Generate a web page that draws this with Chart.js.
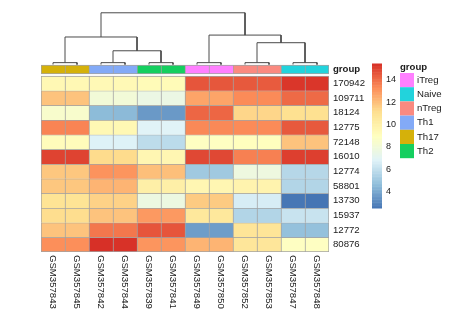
<!DOCTYPE html>
<html>
<head>
<meta charset="utf-8">
<script src="https://cdn.jsdelivr.net/npm/chart.js@4.4.1/dist/chart.umd.min.js"></script>
<style>
  body { margin: 0; background: #fff; }
  #wrap { width: 474px; height: 325px; }
</style>
</head>
<body>
<div id="wrap"><canvas id="heatmap" width="474" height="325"></canvas></div>
<script>
// columns, in dendrogram order
const samples = ['GSM357843', 'GSM357845', 'GSM357842', 'GSM357844', 'GSM357839', 'GSM357841',
                 'GSM357849', 'GSM357850', 'GSM357852', 'GSM357853', 'GSM357847', 'GSM357848'];
const sampleGroup = ['Th17', 'Th17', 'Th1', 'Th1', 'Th2', 'Th2',
                     'iTreg', 'iTreg', 'nTreg', 'nTreg', 'Naive', 'Naive'];
const genes = ['170942', '109711', '18124', '12775', '72148', '16010',
               '12774', '58801', '13730', '15937', '12772', '80876'];

// log expression, one row per gene
const expr = [
  [9.5, 9.5, 9.4, 9.4, 9.3, 9.3, 14.6, 14.55, 14.5, 14.45, 15.3, 15.3],
  [11.9, 11.9, 8.1, 8.1, 7.6, 7.6, 12.7, 12.7, 13.35, 13.35, 14.1, 14.1],
  [8.5, 8.5, 4.6, 4.55, 3.6, 3.6, 14.2, 14.2, 11.4, 11.4, 11.1, 11.1],
  [13.5, 13.5, 9.5, 9.5, 6.9, 6.9, 13.4, 13.4, 13.35, 13.35, 14.5, 14.5],
  [9.2, 9.2, 6.8, 6.8, 5.9, 5.85, 8.9, 8.9, 9.05, 9.05, 11.9, 11.9],
  [15.0, 15.0, 11.25, 11.25, 9.6, 9.6, 14.9, 14.9, 13.6, 13.6, 15.1, 15.1],
  [11.8, 11.8, 13.15, 13.1, 12.0, 12.0, 5.1, 5.1, 7.8, 7.8, 5.7, 5.7],
  [11.8, 11.8, 12.3, 12.3, 10.1, 10.1, 9.6, 9.6, 9.8, 9.8, 5.6, 5.6],
  [10.9, 10.9, 11.5, 11.5, 7.7, 7.7, 11.7, 11.7, 6.6, 6.6, 2.6, 2.55],
  [11.2, 11.2, 11.9, 11.9, 13.0, 13.0, 10.6, 10.6, 5.6, 5.6, 6.2, 6.2],
  [11.9, 11.9, 13.8, 13.8, 14.6, 14.6, 3.7, 3.7, 10.8, 10.8, 4.8, 4.8],
  [13.25, 13.25, 15.45, 15.4, 13.1, 13.1, 12.3, 12.3, 10.7, 10.7, 8.9, 8.9]
];

const groupNames = ['iTreg', 'Naive', 'nTreg', 'Th1', 'Th17', 'Th2'];
const groupColors = ['#FF80FF', '#22D3DC', '#FA8A80', '#83AAF7', '#D5B10A', '#15CF5F'];
const legendTicks = [4, 6, 8, 10, 12, 14];

// hclust style merge matrix (negative = leaf), heights in row units
const treeMerge = [[-1, -2], [-3, -4], [-5, -6], [-7, -8], [-9, -10], [-11, -12],
                   [2, 3], [1, 7], [5, 6], [4, 9], [8, 10]];
const treeHeight = [0.13, 0.13, 0.13, 0.13, 0.13, 0.13, 0.94, 1.88, 1.49, 2.01, 3.53];

const palette = ['#4575B4', '#91BFDB', '#E0F3F8', '#FFFFBF', '#FEE090', '#FC8D59', '#D73027'];
const FONT = "'Liberation Sans', Arial, sans-serif";
const TEXT = '#1a1a1a';
const ANNO_TOP = -0.75, ANNO_BOTTOM = -0.14;
const TREE_BASE = -0.78;

const allVals = expr.flat();
const vMin = Math.min(...allVals);
const vMax = Math.max(...allVals);

function hexRgb(h) {
    return [1, 3, 5].map(i => parseInt(h.slice(i, i + 2), 16));
}

function valueColor(v) {
    let t = (v - vMin) / (vMax - vMin);
    t = Math.min(1, Math.max(0, t));
    const pos = t * (palette.length - 1);
    const i = Math.min(Math.floor(pos), palette.length - 2);
    const f = pos - i;
    const a = hexRgb(palette[i]), b = hexRgb(palette[i + 1]);
    const c = a.map((x, k) => Math.round(x + (b[k] - x) * f));
    return `rgb(${c[0]}, ${c[1]}, ${c[2]})`;
}

const lastCol = samples.length - 1;
const lastRow = genes.length - 1;

const cellDatasets = expr.map((row, i) => ({
    type: 'bar',
    label: genes[i],
    data: row.map((v, j) => ({ x: j + 0.5, y: [i, i + 1] })),
    backgroundColor: row.map(valueColor),
    borderColor: '#A3A3A3',
    borderWidth: ctx => ({ top: 1, left: 1, right: ctx.dataIndex === lastCol ? 1 : 0, bottom: i === lastRow ? 1 : 0 }),
    borderSkipped: false,
    grouped: false,
    barPercentage: 1,
    categoryPercentage: 1
}));

const annoDatasets = groupNames.map((g, k) => {
    const cols = samples.map((s, j) => j).filter(j => sampleGroup[j] === g);
    return {
        type: 'bar',
        label: g,
        data: cols.map(j => ({ x: j + 0.5, y: [ANNO_TOP, ANNO_BOTTOM] })),
        backgroundColor: groupColors[k],
        borderColor: '#A3A3A3',
        borderWidth: ctx => ({ top: 1, left: 1, bottom: 1, right: cols[ctx.dataIndex] === lastCol ? 1 : 0 }),
        borderSkipped: false,
        grouped: false,
        barPercentage: 1,
        categoryPercentage: 1
    };
});

// node x = leaf centre or midpoint of its children, node height from treeHeight
function nodeX(id) {
    if (id < 0) return -id - 0.5;
    const [a, b] = treeMerge[id - 1];
    return (nodeX(a) + nodeX(b)) / 2;
}
function nodeH(id) {
    return id < 0 ? 0 : treeHeight[id - 1];
}
const treeDatasets = treeMerge.map(([a, b], k) => {
    const h = treeHeight[k];
    return {
        type: 'line',
        data: [
            { x: nodeX(a), y: TREE_BASE - nodeH(a) },
            { x: nodeX(a), y: TREE_BASE - h },
            { x: nodeX(b), y: TREE_BASE - h },
            { x: nodeX(b), y: TREE_BASE - nodeH(b) }
        ],
        borderColor: '#4a4a4a',
        borderWidth: 1,
        pointRadius: 0,
        fill: false,
        tension: 0
    };
});

// column labels, colour key and annotation legend
const extras = {
    id: 'extras',
    afterDraw(chart) {
        const ctx = chart.ctx;
        const xs = chart.scales.x;
        ctx.save();
        ctx.fillStyle = TEXT;
        ctx.font = `9.6px ${FONT}`;
        ctx.textAlign = 'left';
        ctx.textBaseline = 'middle';
        samples.forEach((s, j) => {
            ctx.save();
            ctx.translate(xs.getPixelForValue(j + 0.5), chart.chartArea.bottom + 3);
            ctx.rotate(Math.PI / 2);
            ctx.fillText(s, 0, 0);
            ctx.restore();
        });

        // colour key
        const cb = { left: 372, width: 10, top: 63.5, bottom: 208 };
        const cbY = v => cb.bottom - (v - vMin) / (vMax - vMin) * (cb.bottom - cb.top);
        const steps = 100;
        for (let k = 0; k < steps; k++) {
            const v0 = vMin + (vMax - vMin) * k / steps;
            const v1 = vMin + (vMax - vMin) * (k + 1) / steps;
            ctx.fillStyle = valueColor((v0 + v1) / 2);
            ctx.fillRect(cb.left, cbY(v1), cb.width, cbY(v0) - cbY(v1) + 0.5);
        }
        ctx.fillStyle = TEXT;
        ctx.font = `9px ${FONT}`;
        legendTicks.forEach(v => ctx.fillText(String(v), cb.left + cb.width + 4, cbY(v)));

        // group legend
        const lg = { left: 400, top: 73, box: 14, rowH: 14.2 };
        ctx.font = `bold 9.6px ${FONT}`;
        ctx.fillText('group', lg.left, 67);
        ctx.font = `9.6px ${FONT}`;
        groupNames.forEach((g, k) => {
            const y = lg.top + k * lg.rowH;
            ctx.fillStyle = groupColors[k];
            ctx.fillRect(lg.left, y, lg.box, lg.rowH);
            ctx.fillStyle = TEXT;
            ctx.fillText(g, lg.left + lg.box + 3, y + lg.rowH / 2);
        });
        ctx.restore();
    }
};

new Chart(document.getElementById('heatmap'), {
    type: 'bar',
    data: { datasets: [...cellDatasets, ...annoDatasets, ...treeDatasets] },
    options: {
        responsive: false,
        animation: false,
        layout: { padding: { left: 41, right: 0, top: 10, bottom: 73 } },
        plugins: { legend: { display: false }, tooltip: { enabled: false } },
        scales: {
            x: {
                type: 'linear', min: 0, max: 12, offset: false, display: false,
                ticks: { stepSize: 1 }, grid: { offset: false }
            },
            y: {
                type: 'linear', reverse: true, min: -4.5, max: 12, position: 'right',
                grid: { display: false, drawTicks: false }, border: { display: false },
                afterBuildTicks: s => {
                    s.ticks = [{ value: (ANNO_TOP + ANNO_BOTTOM) / 2 }].concat(genes.map((g, i) => ({ value: i + 0.5 })));
                },
                afterFit: s => { s.width = 145; },
                ticks: {
                    autoSkip: false,
                    padding: 4,
                    color: TEXT,
                    font: ctx => ({ family: FONT, size: 9.6, weight: ctx.index === 0 ? 'bold' : 'normal' }),
                    callback: (v, idx) => idx === 0 ? 'group' : genes[idx - 1]
                }
            }
        }
    },
    plugins: [extras]
});
</script>
</body>
</html>
